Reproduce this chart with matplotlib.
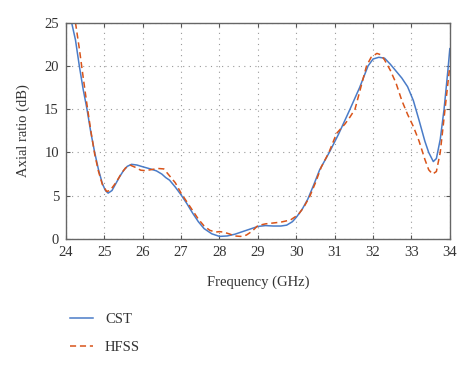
import matplotlib
matplotlib.use("Agg")
import matplotlib.pyplot as plt

# axial ratio (GHz, dB)
cst_f = [24.15, 24.25, 24.35, 24.45, 24.55, 24.65, 24.75, 24.85, 24.95, 25.03, 25.1, 25.2, 25.3,
         25.4, 25.5, 25.6, 25.71, 25.85, 26.0, 26.2, 26.36, 26.5, 26.6, 26.7, 26.85, 27.0, 27.15,
         27.3, 27.45, 27.6, 27.8, 28.0, 28.2, 28.4, 28.6, 28.8, 29.0, 29.2, 29.4, 29.6, 29.75, 29.9,
         30.0, 30.15, 30.3, 30.45, 30.61, 30.86, 31.1, 31.4, 31.65, 31.87, 32.0, 32.15, 32.3, 32.45,
         32.6, 32.75, 32.9, 33.05, 33.2, 33.35, 33.45, 33.57, 33.65, 33.75, 33.85, 33.95, 34.0]
cst_ar = [25, 23, 20, 17.3, 15, 12.3, 10, 8.0, 6.4, 5.6, 5.3, 5.6, 6.4,
          7.2, 7.9, 8.4, 8.63, 8.55, 8.35, 8.1, 7.87, 7.5, 7.1, 6.8, 6.0, 5.1, 4.1,
          3.0, 2.0, 1.2, 0.6, 0.3, 0.35, 0.55, 0.85, 1.15, 1.45, 1.55, 1.5, 1.5, 1.6, 2.0,
          2.5, 3.4, 4.6, 6.2, 8.0, 10.0, 12.1, 15.0, 17.5, 20.0, 20.8, 21.0, 20.9, 20.2,
          19.4, 18.6, 17.6, 16.0, 13.7, 11.3, 10.0, 8.95, 9.3, 11.5, 15.0, 19.5, 22.0]

hfss_f = [24.25, 24.35, 24.45, 24.55, 24.65, 24.75, 24.85, 24.95, 25.06, 25.15, 25.3, 25.45, 25.55,
          25.67, 25.8, 25.95, 26.07, 26.2, 26.4, 26.55, 26.7, 26.85, 27.0, 27.15, 27.3, 27.45, 27.6,
          27.75, 27.9, 28.0, 28.1, 28.25, 28.4, 28.55, 28.7, 28.85, 29.0, 29.2, 29.4, 29.6, 29.85,
          30.05, 30.2, 30.35, 30.5, 30.65, 30.85, 31.05, 31.27, 31.4, 31.53, 31.68, 31.83, 31.95,
          32.1, 32.2, 32.3, 32.45, 32.6, 32.75, 32.9, 33.05, 33.2, 33.35, 33.45, 33.55, 33.65,
          33.75, 33.85, 33.95, 34.0]
hfss_ar = [25, 22, 18.7, 15.5, 12.5, 9.8, 7.8, 6.3, 5.5, 5.6, 6.5, 7.6, 8.2,
           8.55, 8.3, 7.95, 7.9, 8.0, 8.15, 8.1, 7.3, 6.5, 5.3, 4.3, 3.3, 2.3, 1.5,
           1.0, 0.8, 0.85, 0.8, 0.6, 0.35, 0.3, 0.45, 0.9, 1.55, 1.75, 1.85, 1.95, 2.2,
           2.8, 3.7, 4.9, 6.5, 8.3, 10.0, 12.2, 13.3, 14.1, 15.0, 17.5, 20.0, 21.0,
           21.45, 21.3, 20.7, 19.5, 18.0, 16.0, 14.4, 13.0, 11.3, 9.2, 8.0, 7.5, 7.8,
           10.0, 14.0, 18.0, 20.0]

xticks = list(range(24, 35))
yticks = [0, 5, 10, 15, 20, 25]

plt.rcParams["font.family"] = ["Liberation Serif", "DejaVu Serif"]
plt.rcParams["font.size"] = 10.5

fig = plt.figure(figsize=(4.74, 3.66), dpi=100)
ax = fig.add_axes([0.139, 0.347, 0.81, 0.591])

l1, = ax.plot(cst_f, cst_ar, color="#4a7cc8", lw=1.1, label="CST")
l2, = ax.plot(hfss_f, hfss_ar, color="#d9541a", lw=1.1, ls=(0, (4, 2.5)), label="HFSS")

ax.set_xlim(24, 34); ax.set_ylim(0, 25)
ax.set_xticks(xticks); ax.set_yticks(yticks)
ax.tick_params(direction="in", top=True, right=True, length=3, color="#555555",
               labelcolor="#333333")
ax.tick_params(axis="x", pad=5); ax.tick_params(axis="y", pad=5)
for s in ax.spines.values():
    s.set_color("#666666"); s.set_linewidth(1.0)
ax.grid(True, ls=(0, (1, 4)), color="#999999", lw=0.8)
ax.set_xlabel("Frequency (GHz)", color="#333333", labelpad=12)
ax.set_ylabel("Axial ratio (dB)", color="#333333", labelpad=10)

fig.legend(handles=[l1, l2], loc="upper left", bbox_to_anchor=(0.12, 0.18), frameon=False,
           handlelength=1.6, handletextpad=0.8, labelspacing=1.0, labelcolor="#333333")

fig.savefig("out.png", dpi=100)
